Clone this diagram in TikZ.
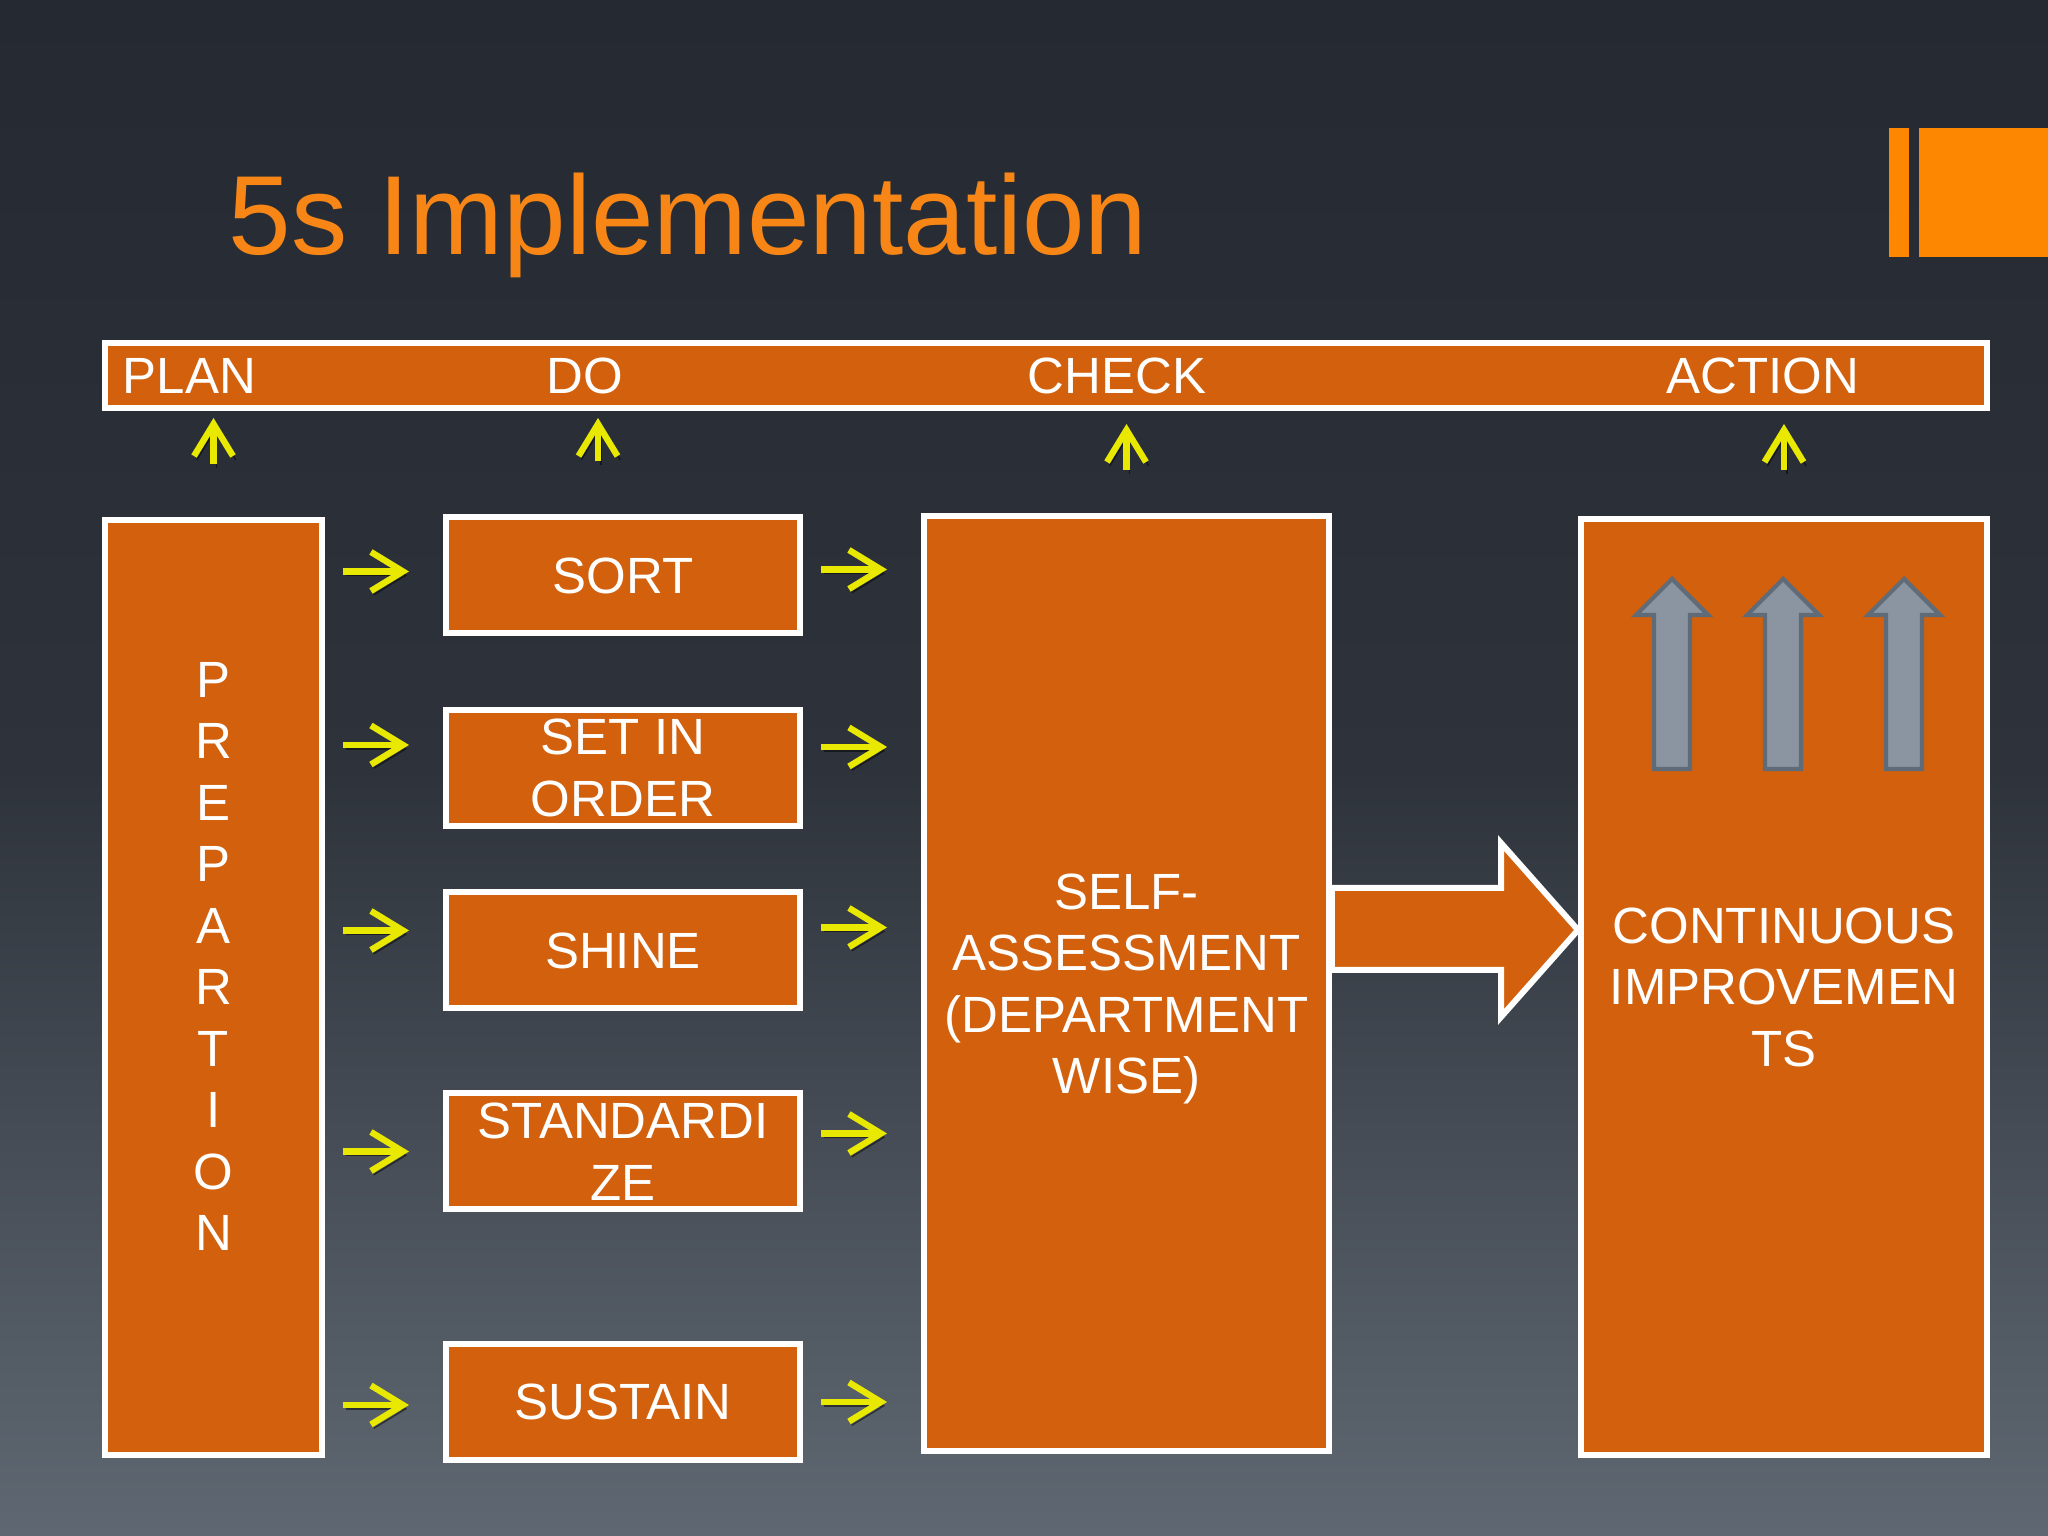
\documentclass[tikz,border=0pt]{standalone}
\usepackage{fontspec}
\setmainfont{Liberation Sans}
\usetikzlibrary{calc,arrows.meta,positioning}

\begin{document}
\begin{tikzpicture}[>=Stealth,
    box/.style={draw=white,fill=cOr,line width=1.7pt,text=white,align=center,
      font=\fontsize{14.5}{17.5}\selectfont,inner sep=0pt},
    lbl/.style={text=white,font=\fontsize{14.5}{17.5}\selectfont,inner sep=0pt},
    yarr/.style={-{Straight Barb[length=3.2mm,width=3.9mm]},draw=cY,line width=1.8pt,
      preaction={draw=black,opacity=.5,transform canvas={shift={(0.8pt,-1.1pt)}}}},
    garr/.style={draw=cGd,fill=cG,line width=1.2pt,line join=miter},
    bigarr/.style={draw=white,fill=cOr,line width=1.7pt,line join=miter}]
      \definecolor{cOr}{RGB}{211,96,12}
      \definecolor{cTitle}{RGB}{247,134,22}
      \definecolor{cDeco}{RGB}{253,135,0}
      \definecolor{cY}{RGB}{232,232,0}
      \definecolor{cG}{RGB}{138,149,161}
      \definecolor{cGd}{RGB}{95,107,120}
      \definecolor{bgT}{RGB}{37,42,50}
      \definecolor{bgM}{RGB}{46,51,59}
      \definecolor{bgB}{RGB}{95,104,114}
      \useasboundingbox (0,0) rectangle (20.48,15.36);
      % background
      \shade[top color=bgT,bottom color=bgM] (0,7.66) rectangle (20.48,15.36);
      \shade[top color=bgM,bottom color=bgB] (0,0) rectangle (20.48,7.68);
      % title and corner marks
      \node[anchor=base west,inner sep=0pt,text=cTitle,font=\fontsize{32}{38}\selectfont] (title) at (2.28,12.81) {5s Implementation};
      \fill[cDeco] (18.89,12.79) rectangle (19.09,14.08);
      \fill[cDeco] (19.19,12.79) rectangle (20.48,14.08);
      % PDCA bar
      \node[box,minimum width=18.82cm,minimum height=0.65cm] (bar) at (10.46,11.605) {};
      \node[lbl] (plan) at (1.895,11.605) {PLAN};
      \node[lbl] (do) at (5.85,11.605) {DO};
      \node[lbl] (check) at (11.17,11.605) {CHECK};
      \node[lbl] (action) at (17.63,11.605) {ACTION};
      % boxes
      \node[box,minimum width=2.17cm,minimum height=9.35cm] (prep) at (2.135,5.485) {};
      \node[lbl,align=center] (preptxt) at ([yshift=3.1mm]prep.center) {P\\R\\E\\P\\A\\R\\T\\I\\O\\N};
      \node[box,minimum width=3.54cm,minimum height=1.16cm] (sort) at (6.23,9.605) {SORT};
      \node[box,minimum width=3.54cm,minimum height=1.16cm] (setin) at (6.23,7.68) {SET IN\\ORDER};
      \node[box,minimum width=3.54cm,minimum height=1.16cm] (shine) at (6.23,5.855) {SHINE};
      \node[box,minimum width=3.54cm,minimum height=1.16cm] (stand) at (6.23,3.845) {STANDARDI\\ZE};
      \node[box,minimum width=3.54cm,minimum height=1.16cm] (sust) at (6.23,1.34) {SUSTAIN};
      \node[box,minimum width=4.05cm,minimum height=9.35cm,text depth=0pt] (self) at (11.265,5.525) {SELF-\\ASSESSMENT\\(DEPARTMENT\\WISE)};
      \node[box,minimum width=4.06cm,minimum height=9.36cm] (cont) at (17.84,5.49) {CONTINUOUS\\IMPROVEMEN\\TS};
      % yellow arrows
      \foreach \b/\l/\r in {sort/0.4/0.6,setin/2.3/2.1,shine/2.0/2.3,stand/0/1.8,sust/-0.3/0}{
        \draw[yarr,shorten <=1.8mm,shorten >=3.4mm] ([yshift=\l mm]prep.east |- \b.west) -- ([yshift=\l mm]\b.west);
        \draw[yarr,shorten <=1.8mm,shorten >=3.4mm] ([yshift=\r mm]\b.east) -- ([yshift=\r mm]self.west |- \b.east);
      }
      \draw[yarr,shorten <=5.3mm,shorten >=0.7mm] (prep.north) -- (prep.north |- bar.south);
      \coordinate (dofoot) at ([xshift=-2.5mm]sort.north);
      \draw[yarr,shorten <=5.3mm,shorten >=0.7mm] (dofoot) -- (dofoot |- bar.south);
      \draw[yarr,shorten <=4.3mm,shorten >=1.3mm] (self.north) -- (self.north |- bar.south);
      \draw[yarr,shorten <=4.6mm,shorten >=1.3mm] (cont.north) -- (cont.north |- bar.south);
      % block arrow self -> cont
      \coordinate (tip) at ([yshift=5.7mm]cont.west);
      \coordinate (tail) at (self.east |- tip);
      \draw[bigarr] ([yshift=4.2mm]tail) -- ([xshift=-7.7mm,yshift=4.2mm]tip)
        -- ([xshift=-7.7mm,yshift=8.7mm]tip) -- (tip)
        -- ([xshift=-7.7mm,yshift=-8.7mm]tip) -- ([xshift=-7.7mm,yshift=-4.0mm]tip)
        -- ([yshift=-4.0mm]tail) -- cycle;
      % grey arrows
      \foreach \x in {16.72,17.83,19.04}
        \draw[garr] (\x,9.57) -- ++(0.36,-0.36) -- ++(-0.18,0) -- ++(0,-1.54)
          -- ++(-0.36,0) -- ++(0,1.54) -- ++(-0.18,0) -- cycle;
\end{tikzpicture}
\end{document}
